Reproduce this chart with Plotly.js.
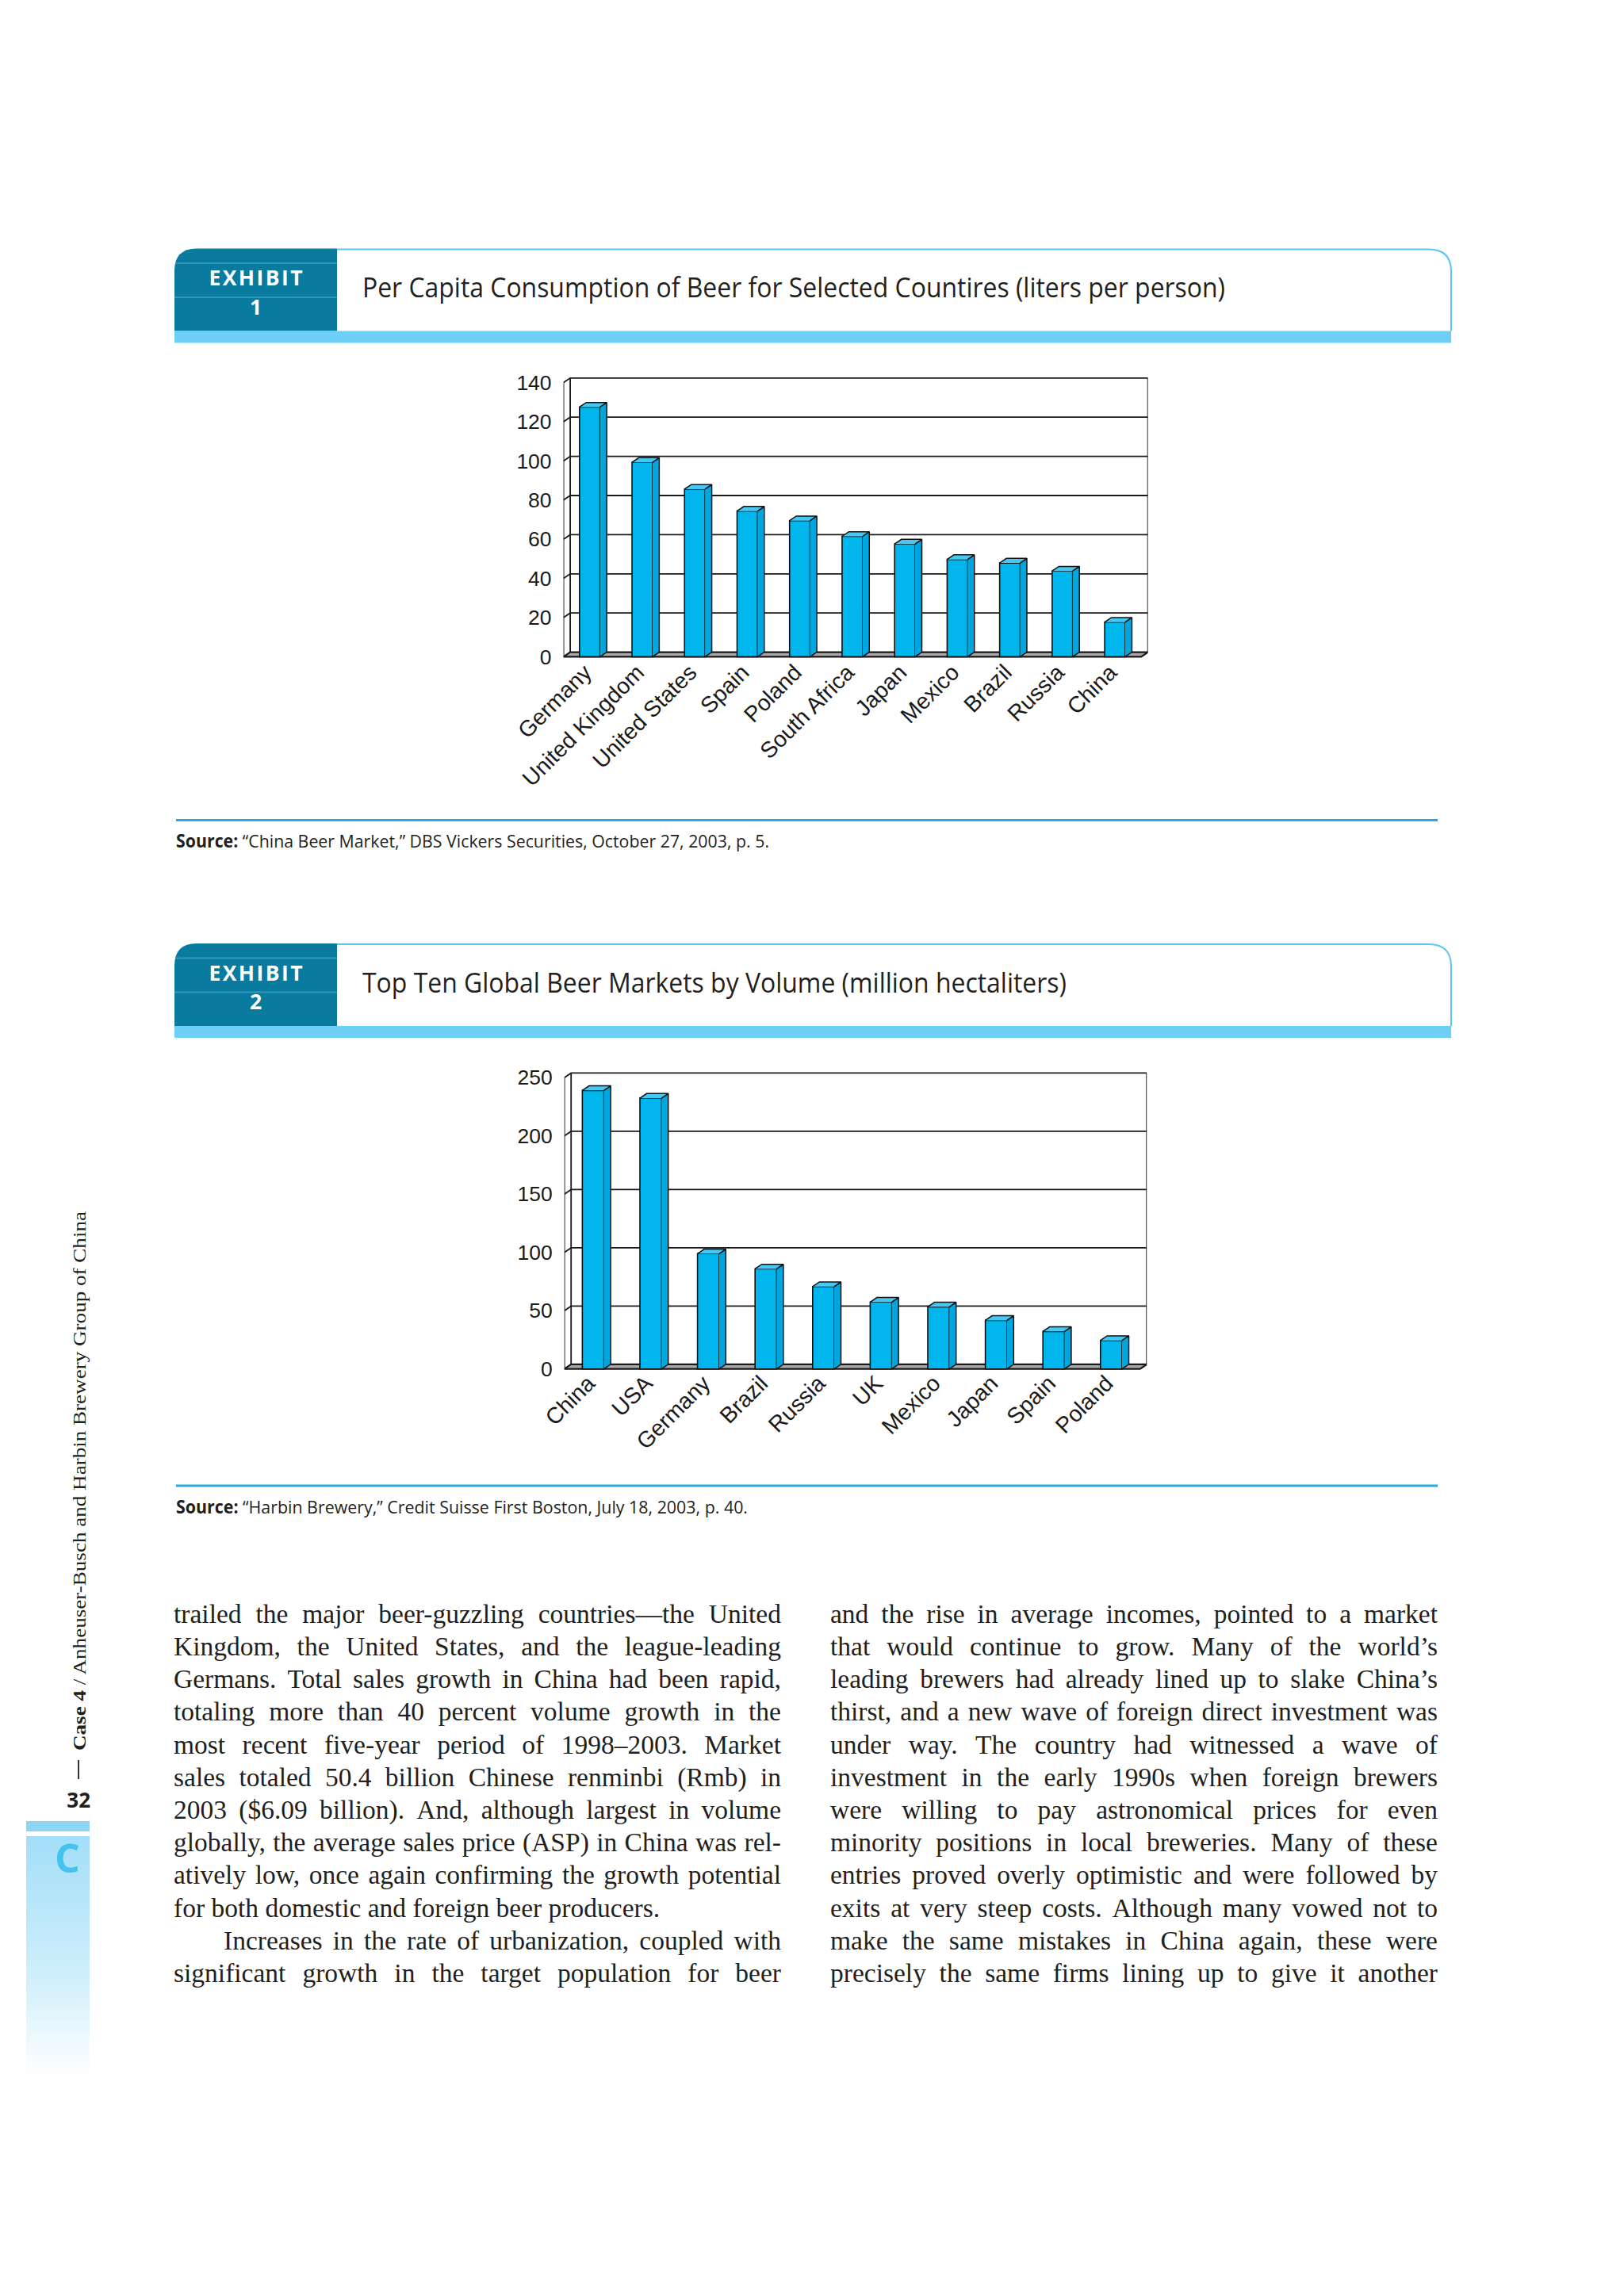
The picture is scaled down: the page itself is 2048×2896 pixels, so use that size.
<!DOCTYPE html>
<html><head><meta charset="utf-8">
<script src="https://cdn.plot.ly/plotly-3.0.1.min.js"></script>
<style>
html,body{margin:0;padding:0;background:#fff;}
#page{position:relative;width:2048px;height:2896px;overflow:hidden;background:#fff;}
#chart{position:absolute;left:0;top:0;width:2048px;height:2896px;}
#ov{position:absolute;left:0;top:0;pointer-events:none;}
</style></head><body>
<div id="page"><div id="chart"></div>
<svg id="ov" width="2048" height="2896" xmlns="http://www.w3.org/2000/svg">
<defs><linearGradient id="tabgrad" x1="0" y1="0" x2="0" y2="1">
<stop offset="0" stop-color="#a3def8"/><stop offset="0.55" stop-color="#cdeefb"/><stop offset="1" stop-color="#ffffff"/></linearGradient></defs>
</svg></div>
<script>
// ---------- DATA ----------
const ex1Title = 'Per Capita Consumption of Beer for Selected Countires (liters per person)';
const ex1Countries = ['Germany','United Kingdom','United States','Spain','Poland','South Africa','Japan','Mexico','Brazil','Russia','China'];
const ex1Liters = [127.5, 99.3, 85.6, 74.4, 69.5, 61.5, 57.6, 49.7, 47.9, 43.8, 17.7];
const ex1Ticks = [0, 20, 40, 60, 80, 100, 120, 140];
const ex1Source = ['Source:', ' \u201cChina Beer Market,\u201d DBS Vickers Securities, October 27, 2003, p. 5.'];

const ex2Title = 'Top Ten Global Beer Markets by Volume (million hectaliters)';
const ex2Countries = ['China','USA','Germany','Brazil','Russia','UK','Mexico','Japan','Spain','Poland'];
const ex2Volume = [239, 232.4, 98.9, 85.9, 70.7, 57.4, 53.3, 41.7, 32.2, 24.5];
const ex2Ticks = [0, 50, 100, 150, 200, 250];
const ex2Source = ['Source:', ' \u201cHarbin Brewery,\u201d Credit Suisse First Boston, July 18, 2003, p. 40.'];

const leftColumn = [
 'trailed the major beer-guzzling countries\u2014the United',
 'Kingdom, the United States, and the league-leading',
 'Germans. Total sales growth in China had been rapid,',
 'totaling more than 40 percent volume growth in the',
 'most recent five-year period of 1998\u20132003. Market',
 'sales totaled 50.4 billion Chinese renminbi (Rmb) in',
 '2003 ($6.09 billion). And, although largest in volume',
 'globally, the average sales price (ASP) in China was rel-',
 'atively low, once again confirming the growth potential',
 'for both domestic and foreign beer producers.',
 'Increases in the rate of urbanization, coupled with',
 'significant growth in the target population for beer'];
const rightColumn = [
 'and the rise in average incomes, pointed to a market',
 'that would continue to grow. Many of the world\u2019s',
 'leading brewers had already lined up to slake China\u2019s',
 'thirst, and a new wave of foreign direct investment was',
 'under way. The country had witnessed a wave of',
 'investment in the early 1990s when foreign brewers',
 'were willing to pay astronomical prices for even',
 'minority positions in local breweries. Many of these',
 'entries proved overly optimistic and were followed by',
 'exits at very steep costs. Although many vowed not to',
 'make the same mistakes in China again, these were',
 'precisely the same firms lining up to give it another'];
const runningHead = ['Case 4', ' / Anheuser-Busch and Harbin Brewery Group of China'];
const pageNumber = '32';

// ---------- CHART GEOMETRY ----------
const PW = 2048, PH = 2896;
const DXPX = 8.5, DYPX = 5.8;
function geom(frontLeft, pxPerCat, n, front0, ppu, top, lo, hi){
  const dxu = DXPX / pxPerCat, dyu = DYPX / ppu;
  const right = frontLeft + (n + dxu) * pxPerCat;
  const rTop = top + dyu + hi;
  const yTopPx = front0 - rTop * ppu, yBotPx = front0 + lo * ppu;
  return {dxu, dyu, n, top,
    xdomain:[frontLeft/PW, right/PW], xrange:[-0.5, n - 0.5 + dxu],
    ydomain:[1 - yBotPx/PH, 1 - yTopPx/PH], yrange:[-lo, rTop]};
}
const g1 = geom(710.6, 66.23, ex1Countries.length, 828.4, 2.47, 140, 3, 2);
const g2 = geom(711.7, 72.6, ex2Countries.length, 1726.7, 1.47, 250, 4, 3);

const LINE = '#1a1a1a';
function frameShapes(xr, yr, g, ticks){
  const L = -0.5, R = g.n - 0.5, dx = g.dxu, dy = g.dyu, T = g.top, s = [];
  const ln = {color: LINE, width: 1.8};
  s.push({type:'path', xref:xr, yref:yr, layer:'below',
    path:`M${L},0 L${R},0 L${R+dx},${dy} L${L+dx},${dy} Z`, fillcolor:'#a8a8a8', line:{color:LINE, width:2.2}});
  ticks.filter(v => v > 0).forEach(v => s.push({type:'path', xref:xr, yref:yr, layer:'below',
    path:`M${L},${v} L${L+dx},${v+dy} L${R+dx},${v+dy}`, line:ln}));
  s.push({type:'path', xref:xr, yref:yr, layer:'below', path:`M${L},0 L${L},${T}`, line:ln});
  s.push({type:'path', xref:xr, yref:yr, layer:'below', path:`M${L+dx},${dy} L${L+dx},${T+dy}`, line:ln});
  s.push({type:'path', xref:xr, yref:yr, layer:'below', path:`M${R+dx},${dy} L${R+dx},${T+dy}`, line:ln});
  return s;
}
function barTraces(xa, ya, g, vals, w){
  const idx = vals.map((v,i) => i);
  const front = {type:'bar', x:idx, y:vals, width:w, xaxis:xa, yaxis:ya,
    marker:{color:'#00b6ed', line:{color:'#111', width:1.6}}, hoverinfo:'y', cliponaxis:false};
  const sx = [], sy = [], tx = [], ty = [], hw = w/2, dx = g.dxu, dy = g.dyu;
  vals.forEach((v,i) => {
    sx.push(i+hw, i+hw+dx, i+hw+dx, i+hw, null);
    sy.push(0, dy, v+dy, v, null);
    tx.push(i-hw, i-hw+dx, i+hw+dx, i+hw, null);
    ty.push(v, v+dy, v+dy, v, null);
  });
  const side = {type:'scatter', mode:'lines', x:sx, y:sy, xaxis:xa, yaxis:ya, fill:'toself',
    fillcolor:'#00a7de', line:{color:'#111', width:1.5}, hoverinfo:'skip', cliponaxis:false};
  const topc = {type:'scatter', mode:'lines', x:tx, y:ty, xaxis:xa, yaxis:ya, fill:'toself',
    fillcolor:'#45c9f3', line:{color:'#111', width:1.5}, hoverinfo:'skip', cliponaxis:false};
  return [front, side, topc];
}
const tickFont = {family:'Liberation Sans, Arial, sans-serif', size:26.5, color:'#1a1a1a'};
const catFont = {family:'Liberation Sans, Arial, sans-serif', size:28.5, color:'#1a1a1a'};
function xAxis(g, cats, anchor){
  return {domain:g.xdomain, range:g.xrange, anchor, showgrid:false, zeroline:false, showline:false,
    tickmode:'array', tickvals:cats.map((c,i)=>i), ticktext:cats, tickangle:-45, ticks:'',
    tickfont:catFont, ticklabelshift:-6, ticklabelstandoff:-11, fixedrange:true};
}
function yAxis(g, ticks, anchor){
  return {domain:g.ydomain, range:g.yrange, anchor, showgrid:false, zeroline:false, showline:false,
    tickmode:'array', tickvals:ticks, ticktext:ticks.map(String), ticks:'', tickfont:tickFont,
    ticklabelstandoff:14, fixedrange:true};
}
const data = [...barTraces('x','y',g1,ex1Liters,0.39), ...barTraces('x2','y2',g2,ex2Volume,0.375)];
const layout = {
  width:PW, height:PH, margin:{l:0,r:0,t:0,b:0}, paper_bgcolor:'rgba(0,0,0,0)', plot_bgcolor:'rgba(0,0,0,0)',
  showlegend:false, barmode:'overlay',
  xaxis:xAxis(g1, ex1Countries, 'y'), yaxis:yAxis(g1, ex1Ticks, 'x'),
  xaxis2:xAxis(g2, ex2Countries, 'y2'), yaxis2:yAxis(g2, ex2Ticks, 'x2'),
  shapes:[...frameShapes('x','y',g1,ex1Ticks), ...frameShapes('x2','y2',g2,ex2Ticks)]
};
Plotly.newPlot('chart', data, layout, {staticPlot:true, displayModeBar:false});

// ---------- PAGE FURNITURE (SVG overlay) ----------
const NS = 'http://www.w3.org/2000/svg';
const ov = document.getElementById('ov');
function el(tag, attrs, parent){const e = document.createElementNS(NS, tag); for (const k in attrs) e.setAttribute(k, attrs[k]); (parent||ov).appendChild(e); return e;}
function txt(str, attrs, parent){const t = el('text', attrs, parent); t.textContent = str; return t;}
const SANS = "'Open Sans', 'Noto Sans', sans-serif";
const SERIF = "'Liberation Serif', 'DejaVu Serif', serif";

function header(T, num, title, titleLen){
  el('path', {d:`M425,${T+1} L1802,${T+1} Q1830,${T+1} 1830,${T+29} L1830,${T+104}`, fill:'#fff', stroke:'#5cc6ee', 'stroke-width':2});
  el('path', {d:`M220,${T+104} L220,${T+28} Q220,${T} 248,${T} L425,${T} L425,${T+104} Z`, fill:'#097b9f'});
  el('line', {x1:221, y1:T+18.5, x2:425, y2:T+18.5, stroke:'#3198bd', 'stroke-width':2});
  el('line', {x1:220, y1:T+61.5, x2:425, y2:T+61.5, stroke:'#3198bd', 'stroke-width':2});
  el('rect', {x:220, y:T+104, width:1610, height:15, fill:'#6dcff6'});
  txt('EXHIBIT', {x:322.5, y:T+46.5, 'text-anchor':'middle', 'font-family':SANS, 'font-weight':'bold', 'font-size':26.5, fill:'#fff', textLength:118, lengthAdjust:'spacing'});
  txt(num, {x:322.5, y:T+83, 'text-anchor':'middle', 'font-family':SANS, 'font-weight':'bold', 'font-size':26.5, fill:'#fff'});
  txt(title, {x:457, y:T+61.5, 'font-family':SANS, 'font-size':35, fill:'#231f20', textLength:titleLen, lengthAdjust:'spacingAndGlyphs'});
}
header(313.5, '1', ex1Title, 1088);
header(1190, '2', ex2Title, 888);

function source(lineY, parts, len){
  el('rect', {x:222, y:lineY, width:1591, height:3, fill:'#29a9e1'});
  const t = el('text', {x:222, y:lineY+36, 'font-family':SANS, 'font-size':22.5, fill:'#231f20', textLength:len, lengthAdjust:'spacingAndGlyphs'});
  const a = el('tspan', {'font-weight':'bold'}, t); a.textContent = parts[0];
  const b = el('tspan', {}, t); b.textContent = parts[1];
}
source(1033, ex1Source, 748);
source(1872.5, ex2Source, 721);

// body text, justified word by word
const BODY_FS = 33.5, BASE0 = 2046.7, LEAD = 41.2;
function column(lines, x0, width, lastLines, indents){
  lines.forEach((line, k) => {
    const y = BASE0 + k*LEAD;
    const ind = indents[k] || 0;
    const t = el('text', {y:y, 'font-family':SERIF, 'font-size':BODY_FS, fill:'#231f20'});
    const words = line.split(' ');
    const spans = words.map(w => {const s = el('tspan', {}, t); s.textContent = w; return s;});
    let widths = spans.map(s => s.getComputedTextLength());
    let sum = widths.reduce((a,b)=>a+b, 0);
    const avail = width - ind;
    const minGap = BODY_FS * 0.2;
    let gap = (avail - sum) / Math.max(1, words.length - 1);
    const isLast = lastLines.includes(k);
    if (isLast) gap = BODY_FS * 0.25;
    let scale = 1;
    if (!isLast && gap < minGap) {
      scale = (avail - minGap*(words.length-1)) / sum;
      gap = minGap;
      t.setAttribute('transform', `translate(${x0+ind},0) scale(${scale},1) translate(${-(x0+ind)},0)`);
    }
    let x = x0 + ind;
    const g = gap / scale;
    spans.forEach((s,i) => {s.setAttribute('x', x.toFixed(2)); s.setAttribute('y', y); x += widths[i] + g;});
  });
}
column(leftColumn, 219, 766, [9], {10:63});
column(rightColumn, 1047, 766, [], {});

// side tab and running head
el('rect', {x:33, y:2297, width:80, height:13, fill:'#8dd6f6'});
el('rect', {x:33, y:2316, width:80, height:305, fill:'url(#tabgrad)'});
txt('C', {x:85, y:2362, 'text-anchor':'middle', 'font-family':SANS, 'font-weight':'bold', 'font-size':50, fill:'#45c3ef'});
txt(pageNumber, {x:114, y:2280, 'text-anchor':'end', 'font-family':SANS, 'font-weight':'bold', 'font-size':26, fill:'#231f20'});
el('line', {x1:99, y1:2220, x2:99, y2:2244, stroke:'#333', 'stroke-width':2});
const rh = el('text', {transform:'translate(108,2208) rotate(-90)', 'font-family':SERIF, 'font-size':23, fill:'#231f20', textLength:680, lengthAdjust:'spacingAndGlyphs'});
const rh1 = el('tspan', {'font-weight':'bold'}, rh); rh1.textContent = runningHead[0];
const rh2 = el('tspan', {}, rh); rh2.textContent = runningHead[1];
</script>
</body></html>
